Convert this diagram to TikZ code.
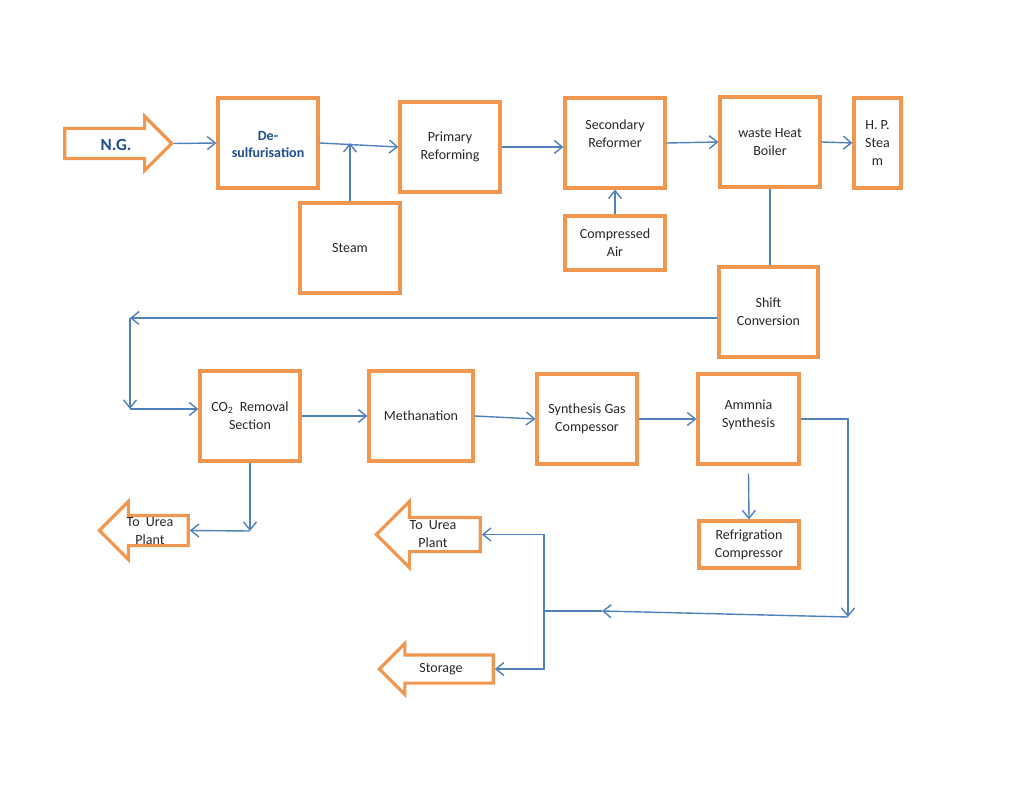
\documentclass[tikz,border=0pt]{standalone}
\usepackage{fontspec}
\setmainfont{Carlito}
\usepackage{tikz}
\usetikzlibrary{positioning, arrows.meta, calc, shapes.arrows}
\usepackage{xcolor}
\definecolor{boxline}{HTML}{F0964E}
\definecolor{flow}{HTML}{4F81BD}
\definecolor{navy}{HTML}{1F4E8C}

\begin{document}
\begin{tikzpicture}[x=1pt, y=-1pt,
  box/.style={draw=boxline, line width=3.2pt, minimum width=100pt, minimum height=90pt,
              inner sep=0pt, align=center, font=\fontsize{14}{18}\selectfont, text=black!85},
  bigarrow/.style={single arrow, draw=boxline, line width=3.2pt, fill=white, inner xsep=0pt, anchor=tip},
  lbl/.style={align=center, font=\fontsize{14}{18}\selectfont, text=black!85},
  ar/.style={-{Straight Barb[length=8pt,width=13pt]}, line width=1.4pt, flow},
  ln/.style={line width=1.4pt, flow},
]
  \useasboundingbox (0,0) rectangle (1023,791);

  \node[bigarrow, minimum height=107pt, inner ysep=13.5pt, single arrow head extend=12pt] (ng) at (174,143.5) {};
  \node[lbl, font=\fontsize{17}{18}\selectfont\bfseries, text=navy] (ngt) at (116,144.5) {N.G.};
  \node[box] (desulf) at (268,143) {};
  \node[lbl, font=\fontsize{14}{17}\selectfont\bfseries, text=navy] (desulft) at (268,145) {De-\\sulfurisation};
  \node[box] (prim) at (450,147) {Primary\\Reforming};
  \node[box] (sec) at (615,143) {};
  \node[lbl] (sect) at (615,134) {Secondary\\Reformer};
  \node[box] (whb) at (770,142) {waste Heat\\Boiler};
  \node[box, minimum width=47pt] (hps) at (877.5,143) {H. P.\\Stea\\m};
  \node[box] (steam) at (350,248) {Steam};
  \node[box, minimum height=54pt] (air) at (615,243) {Compressed\\Air};
  \node[box, minimum width=99pt] (shift) at (768.5,312) {Shift\\Conversion};

  \node[box] (co2) at (250,416) {CO\textsubscript{2}~~Removal\\Section};
  \node[box, minimum width=104pt] (meth) at (421,416) {Methanation};
  \node[box] (sgc) at (587,419) {Synthesis Gas\\Compessor};
  \node[box, minimum width=101pt] (amm) at (748.5,419) {};
  \node[lbl] (ammt) at (748.5,415) {Ammnia\\Synthesis};
  \node[box, minimum height=47pt] (refr) at (749,544.5) {Refrigration\\Compressor};

  \node[bigarrow, shape border rotate=180, minimum height=89pt, inner ysep=13.5pt, single arrow head extend=14pt] (urea1) at (97,530.5) {};
  \node[lbl] (urea1t) at (150,531) {To~~Urea\\Plant};
  \node[bigarrow, shape border rotate=180, minimum height=104pt, inner ysep=15.5pt, single arrow head extend=16pt] (urea2) at (374,534.5) {};
  \node[lbl] (urea2t) at (433,534) {To~~Urea\\Plant};
  \node[bigarrow, shape border rotate=180, minimum height=114pt, inner ysep=12.5pt, single arrow head extend=11.5pt] (store) at (377,669) {};
  \node[lbl] (storet) at (441,669) {Storage};

  \coordinate (back) at (130,318);
  \coordinate (turn) at (130,409);
  \coordinate (drop) at (250,531);
  \coordinate (down) at (848,617);
  \coordinate (mid) at (602,611);
  \coordinate (split) at (544,611);

  \draw[ar] (ng.tip) -- (desulf.west);
  \draw[ar] (desulf.east) -- (prim.west);
  \draw[ar] (steam.north) -- (steam.north |- desulf.east);
  \draw[ar] (prim.east) -- (sec.west |- prim.east);
  \draw[ar] (air.north) -- (sec.south);
  \draw[ar] (sec.east) -- (whb.west);
  \draw[ar] (whb.east) -- (hps.west);
  \draw[ln] (whb.south) -- (whb.south |- shift.north);
  \draw[ar] (shift.west |- back) -- (back);
  \draw[ar] (back) -- (turn);
  \draw[ar] (turn) -- (co2.west |- turn);
  \draw[ar] (co2.east) -- (meth.west);
  \draw[ar] (meth.east) -- (sgc.west);
  \draw[ar] (sgc.east) -- (amm.west);
  \draw[ar] ([yshift=-8pt]amm.south) -- (refr.north);
  \draw[ar] (co2.south) -- (drop);
  \draw[ar] (drop) -- (urea1.tail);
  \draw[ar] (amm.east) -| (down);
  \draw[ar] (down) -- (mid);
  \draw[ln] (mid) -- (split);
  \draw[ar] (split) |- (urea2.tail);
  \draw[ar] (split) |- (store.tail);
\end{tikzpicture}
\end{document}
